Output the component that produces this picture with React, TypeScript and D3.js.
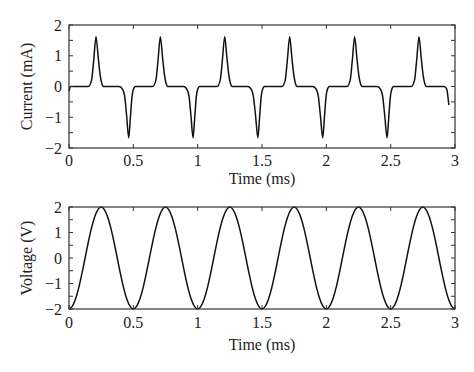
import React from "react";
import * as d3 from "d3";

// current trace (ms, mA)
const currentTime = [
  0, 0.012, 0.15, 0.175, 0.193, 0.21, 0.227, 0.242, 0.255, 0.265, 0.39, 0.418, 0.432, 0.448, 0.464, 0.478, 0.49, 0.5, 0.515,
  0.65, 0.675, 0.693, 0.71, 0.727, 0.742, 0.755, 0.765, 0.89, 0.918, 0.932, 0.948, 0.964, 0.978, 0.99, 1.0, 1.015,
  1.15, 1.175, 1.193, 1.21, 1.227, 1.242, 1.255, 1.265, 1.39, 1.418, 1.432, 1.45, 1.468, 1.482, 1.494, 1.504, 1.519,
  1.655, 1.68, 1.698, 1.715, 1.732, 1.747, 1.76, 1.77, 1.895, 1.923, 1.937, 1.954, 1.972, 1.986, 1.998, 2.008, 2.023,
  2.16, 2.185, 2.203, 2.22, 2.237, 2.252, 2.265, 2.275, 2.395, 2.423, 2.437, 2.454, 2.472, 2.486, 2.498, 2.508, 2.523,
  2.66, 2.685, 2.703, 2.72, 2.737, 2.752, 2.765, 2.775, 2.915, 2.935, 2.952,
];
const currentValue = [
  -0.15, 0, 0, 0.2, 0.9, 1.62, 0.95, 0.38, 0.1, 0, 0, -0.1, -0.3, -0.95, -1.67, -0.95, -0.32, -0.1, 0,
  0, 0.2, 0.9, 1.62, 0.95, 0.38, 0.1, 0, 0, -0.1, -0.3, -0.95, -1.67, -0.95, -0.32, -0.1, 0,
  0, 0.2, 0.9, 1.62, 0.95, 0.38, 0.1, 0, 0, -0.1, -0.3, -0.95, -1.67, -0.95, -0.32, -0.1, 0,
  0, 0.2, 0.9, 1.62, 0.95, 0.38, 0.1, 0, 0, -0.1, -0.3, -0.95, -1.67, -0.95, -0.32, -0.1, 0,
  0, 0.2, 0.9, 1.62, 0.95, 0.38, 0.1, 0, 0, -0.1, -0.3, -0.95, -1.67, -0.95, -0.32, -0.1, 0,
  0, 0.2, 0.9, 1.62, 0.95, 0.38, 0.1, 0, 0, -0.08, -0.6,
];

// voltage trace (V), sampled every 0.025 ms from the bottom panel
const voltageValue = [
  -2, -1.9, -1.62, -1.18, -0.62, 0, 0.62, 1.18, 1.62, 1.9, 2, 1.9, 1.62, 1.18, 0.62, 0, -0.62, -1.18, -1.62, -1.9,
  -2, -1.9, -1.62, -1.18, -0.62, 0, 0.62, 1.18, 1.62, 1.9, 2, 1.9, 1.62, 1.18, 0.62, 0, -0.62, -1.18, -1.62, -1.9,
  -2, -1.9, -1.62, -1.18, -0.62, 0, 0.62, 1.18, 1.62, 1.9, 2, 1.9, 1.62, 1.18, 0.62, 0, -0.62, -1.18, -1.62, -1.9,
  -2, -1.9, -1.62, -1.18, -0.62, 0, 0.62, 1.18, 1.62, 1.9, 2, 1.9, 1.62, 1.18, 0.62, 0, -0.62, -1.18, -1.62, -1.9,
  -2, -1.9, -1.62, -1.18, -0.62, 0, 0.62, 1.18, 1.62, 1.9, 2, 1.9, 1.62, 1.18, 0.62, 0, -0.62, -1.18, -1.62, -1.9,
  -2, -1.9, -1.62, -1.18, -0.62, 0, 0.62, 1.18, 1.62, 1.9, 2, 1.9, 1.62, 1.18, 0.62, 0, -0.62, -1.18, -1.62, -1.9,
  -2,
];
const voltageTime = voltageValue.map((_, i) => i * 0.025);

const timeTicks = [0, 0.5, 1, 1.5, 2, 2.5, 3];
const yMajor = [-2, -1, 0, 1, 2];
const yMinor = [-1.5, -0.5, 0.5, 1.5];

const W = 474;
const H = 372;
const FONT = "'Liberation Serif', 'DejaVu Serif', serif";
const FS = 16;

const x = d3.scaleLinear().domain([0, 3]).range([69, 455]);

const Panel = ({ top, bottom, times, values, ylabel, tickGap, titleGap }) => {
  const y = d3.scaleLinear().domain([-2, 2]).range([bottom, top]);
  const line = d3
    .line<number>()
    .x((_, i) => x(times[i]))
    .y((d) => y(d))
    .curve(d3.curveMonotoneX);
  const tk = 4;
  const yTicks = [...yMajor, ...yMinor];
  return (
    <g>
      <path d={line(values) || ""} fill="none" stroke="#111" strokeWidth={1.5} />
      <rect x={x(0)} y={top} width={x(3) - x(0)} height={bottom - top} fill="none" stroke="#333" strokeWidth={1.2} />
      {timeTicks.map((t) => (
        <g key={"xt" + t}>
          <line x1={x(t)} x2={x(t)} y1={bottom} y2={bottom - tk} stroke="#333" />
          <line x1={x(t)} x2={x(t)} y1={top} y2={top + tk} stroke="#333" />
          <text x={x(t)} y={bottom + tickGap} textAnchor="middle" fontSize={FS} fontFamily={FONT} fill="#222">
            {t}
          </text>
        </g>
      ))}
      {yTicks.map((v) => (
        <g key={"yt" + v}>
          <line x1={x(0)} x2={x(0) + tk} y1={y(v)} y2={y(v)} stroke="#333" />
          <line x1={x(3)} x2={x(3) - tk} y1={y(v)} y2={y(v)} stroke="#333" />
        </g>
      ))}
      {yMajor.map((v) => (
        <text key={"yl" + v} x={x(0) - 7} y={y(v)} dy="0.35em" textAnchor="end" fontSize={FS} fontFamily={FONT} fill="#222">
          {v < 0 ? "\u2212" + Math.abs(v) : v}
        </text>
      ))}
      <text
        transform={`translate(26,${(top + bottom) / 2}) rotate(-90)`}
        textAnchor="middle"
        dy="0.35em"
        fontSize={FS}
        fontFamily={FONT}
        fill="#222"
      >
        {ylabel}
      </text>
      <text x={(x(0) + x(3)) / 2} y={bottom + titleGap} textAnchor="middle" fontSize={FS} fontFamily={FONT} fill="#222">
        Time (ms)
      </text>
    </g>
  );
};

export default function App() {
  return (
    <svg width={W} height={H} style={{ position: "absolute", left: 0, top: 0, background: "#fff" }}>
      <Panel top={25} bottom={148} times={currentTime} values={currentValue} ylabel="Current (mA)" tickGap={18} titleGap={36} />
      <Panel top={207} bottom={309} times={voltageTime} values={voltageValue} ylabel="Voltage (V)" tickGap={19} titleGap={41} />
    </svg>
  );
}
